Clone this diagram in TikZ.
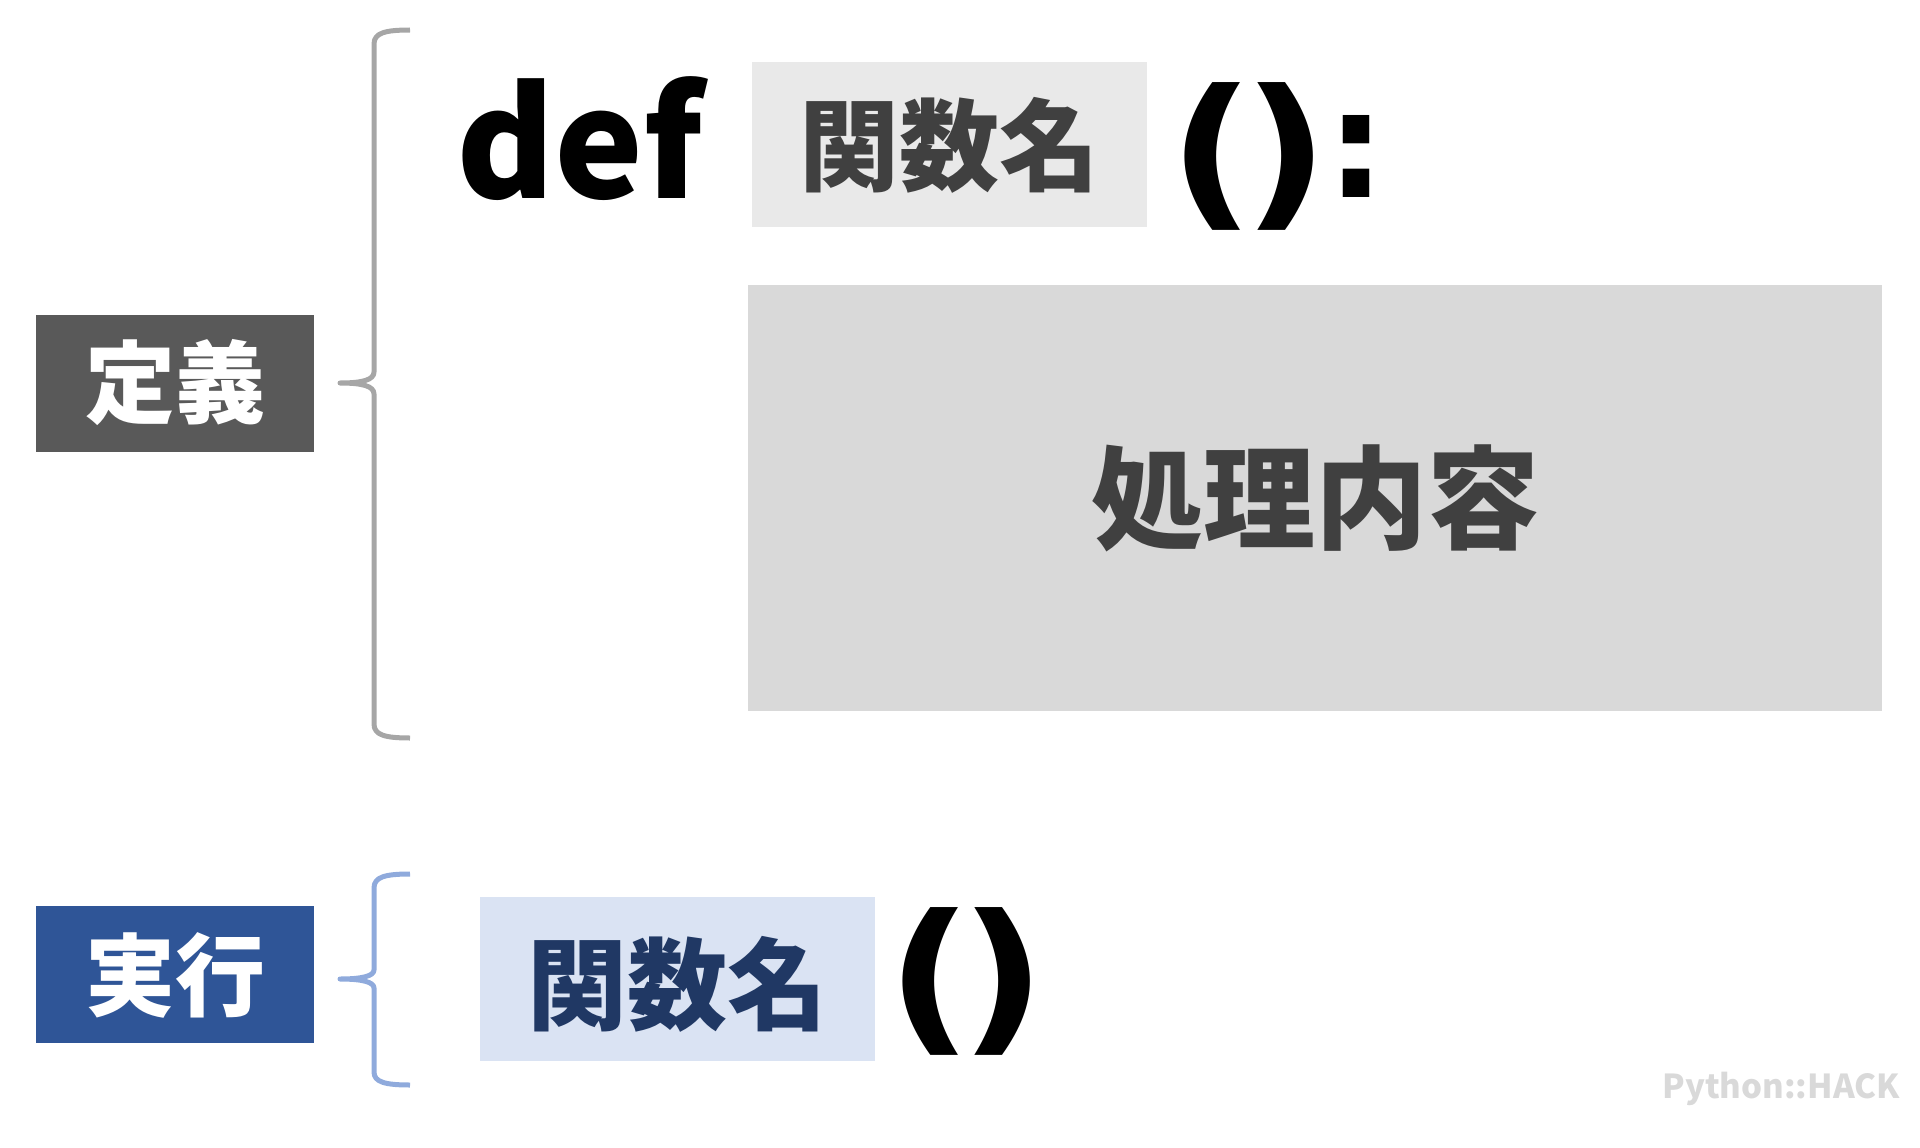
\documentclass[tikz,border=0pt]{standalone}
\usepackage{fontspec}
\newfontfamily\jp{Noto Sans CJK JP}
\newfontfamily\pfont{DejaVu Sans}
\definecolor{darkbox}{HTML}{595959}
\definecolor{bluebox}{HTML}{2F5597}
\definecolor{bracegray}{HTML}{A6A6A6}
\definecolor{braceblue}{HTML}{8FAADC}
\definecolor{namegray}{HTML}{E9E9E9}
\definecolor{bodygray}{HTML}{D9D9D9}
\definecolor{textgray}{HTML}{404040}
\definecolor{nameblue}{HTML}{DAE3F3}
\definecolor{navy}{HTML}{203864}
\definecolor{wmark}{HTML}{D9D9D9}
\tikzset{
  label box/.style={fill=#1, draw=none},
  jtext/.style={inner sep=0pt, font=\jp\bfseries},
  ptext/.style={inner sep=0pt, font=\pfont\bfseries\fontsize{166}{166}\selectfont, xscale=1.15},
  bracepath/.style={draw=#1, line width=5pt, line cap=butt, line join=round},
}
\begin{document}
\begin{tikzpicture}[x=1pt,y=-1pt]
\useasboundingbox (0,0) rectangle (1920,1148);
% label boxes
\fill[label box=darkbox] (36,315) rectangle (314,452);
\node[jtext, text=white, font=\jp\bfseries\fontsize{90}{90}\selectfont] (teigi) at (175,383) {定義};
\fill[label box=bluebox] (36,906) rectangle (314,1043);
\node[jtext, text=white, font=\jp\bfseries\fontsize{90}{90}\selectfont] (jikko) at (175,975) {実行};
% braces
\path[bracepath=bracegray] (410,30) .. controls (385,30) and (374,33) .. (374,44) -- (374,372) .. controls (374,380) and (362,383) .. (340,383) .. controls (362,383) and (374,386) .. (374,394) -- (374,724) .. controls (374,735) and (385,738) .. (410,738);
\path[bracepath=braceblue] (410,874) .. controls (385,874) and (374,877) .. (374,888) -- (374,970) .. controls (374,976) and (362,979) .. (340,979) .. controls (362,979) and (374,982) .. (374,988) -- (374,1072) .. controls (374,1082) and (385,1085) .. (410,1085);
% definition line
\node[jtext, anchor=base west, font=\jp\bfseries\fontsize{150}{150}\selectfont] (def) at (456,198) {def};
\fill[namegray] (752,62) rectangle (1147,227);
\node[jtext, text=textgray, font=\jp\bfseries\fontsize{100}{100}\selectfont] (name1) at (949,145) {関数名};
\node[ptext] (lp1) at (1212,156) {(};
\node[ptext] (rp1) at (1286,156) {)};
\node[inner sep=0pt, font=\pfont\bfseries\fontsize{150}{150}\selectfont] (colon) at (1356,156) {:};
% body
\fill[bodygray] (748,285) rectangle (1882,711);
\node[jtext, text=textgray, font=\jp\bfseries\fontsize{112}{112}\selectfont] (body) at (1315,498) {処理内容};
% call line
\fill[nameblue] (480,897) rectangle (875,1061);
\node[jtext, text=navy, font=\jp\bfseries\fontsize{100}{100}\selectfont] (name2) at (677,984) {関数名};
\node[ptext] (lp2) at (930,981) {(};
\node[ptext] (rp2) at (1003,981) {)};
% watermark
\node[jtext, text=wmark, anchor=base east, font=\jp\bfseries\fontsize{33}{33}\selectfont] (wm) at (1900,1098) {Python::HACK};
\end{tikzpicture}
\end{document}
